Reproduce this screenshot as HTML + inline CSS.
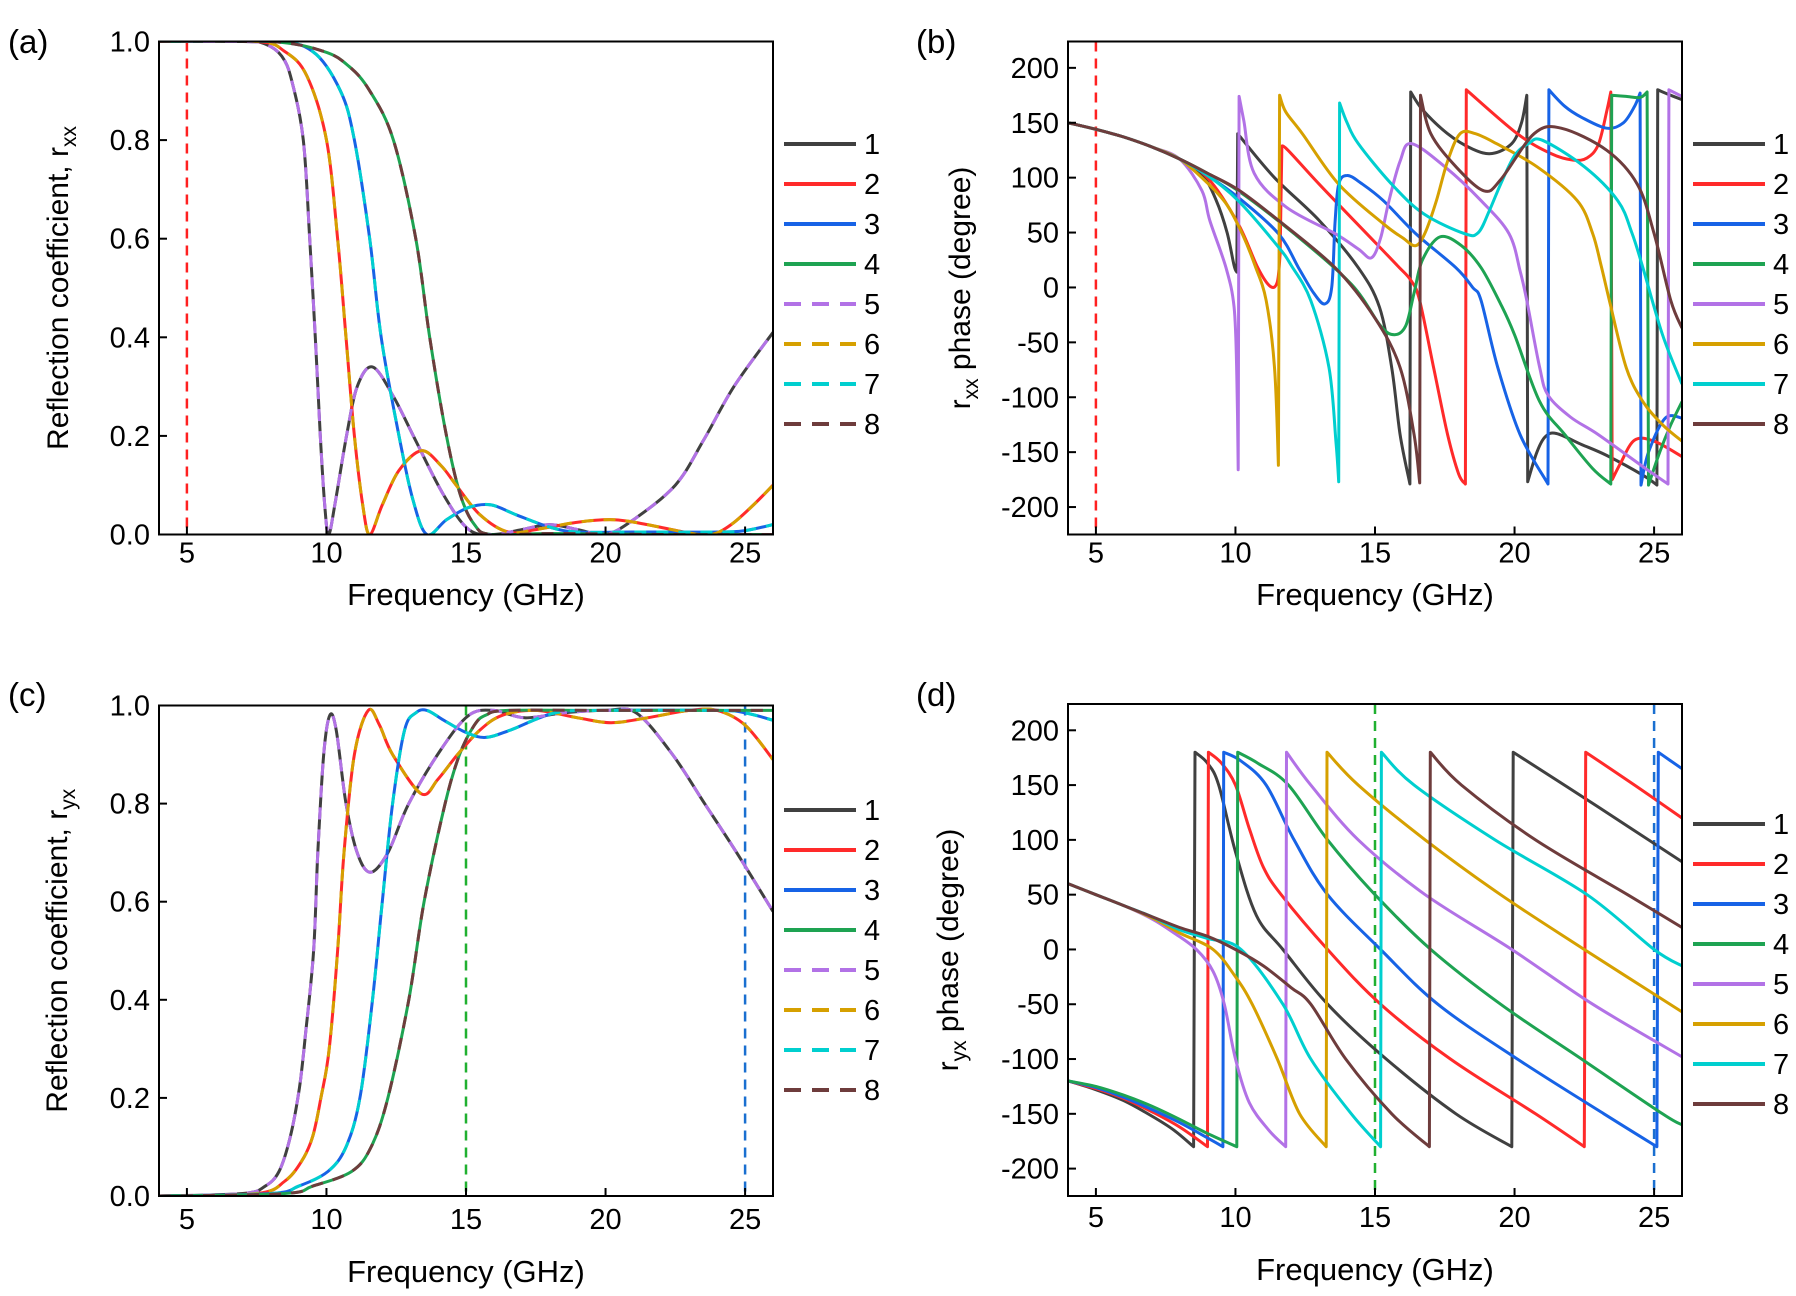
<!DOCTYPE html>
<html><head><meta charset="utf-8"><style>
html,body{margin:0;padding:0;background:#fff;}
svg{display:block;font-family:"Liberation Sans",Arial,sans-serif;}
</style></head><body>
<svg id="s" width="1796" height="1296" viewBox="0 0 1796 1296" xmlns="http://www.w3.org/2000/svg"></svg>
<script>
const C=['#404040','#ff2a2a','#1763e6','#1ea352','#b272e6','#d6a000','#00cfcf','#6e3c3c'];
function cr(p){let d='M'+p[0][0].toFixed(1)+','+p[0][1].toFixed(1);
 for(let i=0;i<p.length-1;i++){const a=p[i-1]||p[i],b=p[i],c=p[i+1],e=p[i+2]||c;
  const c1=[b[0]+(c[0]-a[0])/6,b[1]+(c[1]-a[1])/6],c2=[c[0]-(e[0]-b[0])/6,c[1]-(e[1]-b[1])/6];
  d+='C'+c1[0].toFixed(1)+','+c1[1].toFixed(1)+' '+c2[0].toFixed(1)+','+c2[1].toFixed(1)+' '+c[0].toFixed(1)+','+c[1].toFixed(1);}
 return d;}
let out='';let cid=0;
function panel(P){
 const sx=x=>P.x0+(x-4)/22*(P.x1-P.x0), sy=y=>P.y1-(y-P.ymin)/(P.ymax-P.ymin)*(P.y1-P.y0);
 cid++;out+=`<clipPath id="c${cid}"><rect x="${P.x0}" y="${P.y0}" width="${P.x1-P.x0}" height="${P.y1-P.y0}"/></clipPath>`;
 const path=segs=>segs.map((s,i)=>{let d=cr(s.map(q=>[sx(q[0]),sy(q[1])]));return i?'L'+d.slice(1):d;}).join('');
 out+=`<g clip-path="url(#c${cid})" fill="none" stroke-linejoin="round">`;
 (P.vl||[]).forEach(v=>{out+=`<line x1="${sx(v[0])}" x2="${sx(v[0])}" y1="${P.y0}" y2="${P.y1}" stroke="${v[1]}" stroke-width="2.5" stroke-dasharray="10,7"/>`;});
 P.curves.forEach(c=>{out+=`<path d="${path(c.s)}" stroke="${c.col}" stroke-width="3"${c.dash?' stroke-dasharray="12,10"':''}/>`;});
 out+='</g>';
 out+=`<rect x="${P.x0}" y="${P.y0}" width="${P.x1-P.x0}" height="${P.y1-P.y0}" fill="none" stroke="#000" stroke-width="2"/>`;
 [5,10,15,20,25].forEach(t=>{const x=sx(t);out+=`<line x1="${x}" x2="${x}" y1="${P.y1}" y2="${P.y1-8}" stroke="#000" stroke-width="2"/><text x="${x}" y="${P.y1+P.tl}" font-size="29" text-anchor="middle">${t}</text>`;});
 P.yt.forEach(t=>{const y=sy(t[0]);out+=`<line x1="${P.x0}" x2="${P.x0+8}" y1="${y}" y2="${y}" stroke="#000" stroke-width="2"/><text x="${P.x0-9}" y="${y+10}" font-size="29" text-anchor="end">${t[1]}</text>`;});
 out+=`<text x="${(P.x0+P.x1)/2}" y="${P.xtY}" font-size="31" text-anchor="middle">Frequency (GHz)</text>`;
 const cy=(P.y0+P.y1)/2;
 out+=`<text transform="translate(${P.ytX},${cy}) rotate(-90)" font-size="30" text-anchor="middle">${P.ytitle}</text>`;
 out+=`<text x="${P.lx}" y="${P.ly}" font-size="33">${P.letter}</text>`;
 for(let i=0;i<8;i++){const y=P.legY+40*i;const dash=P.legDash&&i>=4;
  out+=`<line x1="${P.x1+11}" x2="${P.x1+83}" y1="${y}" y2="${y}" stroke="${C[i]}" stroke-width="4"${dash?' stroke-dasharray="17,11"':''}/><text x="${P.x1+91}" y="${y+10}" font-size="29">${i+1}</text>`;}
}
function pairs(G){const cs=[];G.forEach((g,i)=>{cs.push({col:C[i],s:[g]});});G.forEach((g,i)=>{cs.push({col:C[i+4],s:[g],dash:1});});return cs;}
const A1=[[4,1],[7,1],[7.8,0.995],[8.4,0.97],[8.76,0.92],[9.17,0.8],[9.4,0.6],[9.6,0.4],[9.78,0.2],[9.95,0.05],[10.08,0],[10.3,0.06],[10.72,0.2],[11.1,0.3],[11.65,0.34],[12.4,0.28],[13.2,0.19],[14.2,0.08],[15.1,0.01],[16,0],[17,0.01],[18,0.02],[19,0.01],[20,0.0],[21,0.03],[22.5,0.1],[23.5,0.19],[24.6,0.3],[26,0.41]];
const A2=[[4,1],[7.5,1],[8.5,0.98],[9.3,0.93],[10,0.8],[10.4,0.6],[10.7,0.4],[11.0,0.2],[11.3,0.06],[11.55,0],[12.0,0.06],[12.6,0.13],[13.4,0.17],[14.1,0.14],[14.65,0.1],[15.5,0.04],[16.5,0.005],[17.5,0.01],[19,0.025],[20.3,0.03],[21.5,0.02],[23,0.003],[23.8,0],[24.5,0.02],[25.3,0.06],[26,0.1]];
const A3=[[4,1],[8,1],[9.5,0.98],[10.5,0.9],[11.0,0.8],[11.55,0.6],[11.96,0.4],[12.6,0.2],[13.1,0.07],[13.6,0],[14.3,0.03],[15.1,0.055],[15.9,0.06],[16.8,0.04],[18,0.015],[19,0.005],[21,0.005],[24,0.005],[25,0.008],[26,0.02]];
const A4=[[4,1],[8,1],[9.9,0.98],[10.8,0.95],[11.55,0.9],[12.4,0.8],[13.2,0.6],[13.7,0.4],[14.3,0.2],[14.8,0.08],[15.3,0.02],[15.9,0],[18,0.002],[22,0],[26,0]];
const magT=[[0,'0.0'],[0.2,'0.2'],[0.4,'0.4'],[0.6,'0.6'],[0.8,'0.8'],[1,'1.0']];
panel({x0:159,x1:773,y0:41.5,y1:534.5,ymin:0,ymax:1,yt:magT,tl:28,xtY:605,ytX:68,
 ytitle:'Reflection coefficient, r<tspan font-size="21" dy="8">xx</tspan>',letter:'(a)',lx:8,ly:53,legY:144,legDash:1,
 vl:[[5,'#ff2020']],curves:pairs([A1,A2,A3,A4])});
const C1=[[4,0],[7,0.005],[7.8,0.02],[8.3,0.05],[8.7,0.12],[9.03,0.22],[9.25,0.33],[9.54,0.5],[9.69,0.7],[9.9,0.9],[10.12,0.98],[10.35,0.95],[10.7,0.8],[11.1,0.7],[11.57,0.66],[12.2,0.7],[12.95,0.8],[14.1,0.91],[15.1,0.98],[16,0.99],[17.1,0.975],[18.5,0.985],[20,0.99],[21.1,0.985],[22.4,0.9],[23.55,0.8],[24.7,0.7],[26,0.58]];
const C2=[[4,0],[7.5,0.005],[8.5,0.03],[9.1,0.07],[9.5,0.12],[9.8,0.2],[10.1,0.3],[10.4,0.5],[10.63,0.7],[11.0,0.9],[11.5,0.99],[11.9,0.96],[12.37,0.9],[13.4,0.82],[14.0,0.85],[14.7,0.9],[15.5,0.95],[16.3,0.98],[17.5,0.99],[19,0.975],[20.2,0.965],[21.5,0.975],[23,0.99],[24,0.99],[25,0.96],[26,0.89]];
const C3=[[4,0],[8,0.005],[9,0.02],[10.05,0.05],[10.7,0.1],[11.2,0.2],[11.65,0.4],[12.0,0.6],[12.37,0.8],[12.8,0.95],[13.2,0.985],[13.6,0.99],[14.2,0.97],[15.0,0.945],[15.7,0.935],[16.6,0.95],[18.2,0.985],[20,0.99],[24,0.99],[25,0.985],[26,0.97]];
const C4=[[4,0],[8.5,0.005],[9.5,0.02],[10.9,0.05],[11.6,0.1],[12.2,0.2],[12.95,0.4],[13.5,0.6],[14.25,0.8],[14.77,0.9],[15.3,0.96],[15.7,0.98],[16.5,0.99],[20,0.99],[26,0.99]];
panel({x0:159,x1:773,y0:705.5,y1:1196,ymin:0,ymax:1,yt:magT,tl:33,xtY:1282,ytX:67,
 ytitle:'Reflection coefficient, r<tspan font-size="21" dy="8">yx</tspan>',letter:'(c)',lx:8,ly:706,legY:810,legDash:1,
 vl:[[15,'#20b030'],[25,'#1a6fd0']],curves:pairs([C1,C2,C3,C4])});
const B=[[4,150],[5,144],[6,137],[7,128],[8,117]];
const b=[
[[...B,[8.8,103],[9.3,80],[9.7,50],[9.95,20],[10.05,14]],[[10.08,140],[11.4,100],[13,61],[14.4,18],[15.16,-18],[15.6,-73],[15.9,-134],[16.25,-179]],[[16.28,178],[16.7,162],[17.6,140],[18.5,126],[19.2,122],[19.9,131],[20.25,150],[20.44,175]],[[20.47,-177],[20.8,-150],[21.1,-136],[21.5,-133],[22.4,-143],[23.3,-153],[24.6,-171],[25.1,-180]],[[25.13,180],[25.5,176],[26,171]]],
[[...B,[9,100],[10.1,58],[10.8,18],[11.25,1],[11.5,5],[11.6,30]],[[11.66,125],[11.8,127],[13,94],[14.7,49],[15.8,20],[16.3,6],[16.6,-12],[17.1,-73],[17.6,-134],[18.0,-170],[18.24,-179]],[[18.27,180],[20.1,140],[21.3,122],[22.1,116],[22.6,118],[23.0,130],[23.3,160],[23.45,178]],[[23.5,-175],[23.8,-160],[24.3,-139],[25,-140],[26,-154]]],
[[...B,[9,102],[10.1,82],[11.54,49],[12.26,18],[12.8,-5],[13.2,-15],[13.45,0],[13.57,60],[13.7,94],[14,102],[14.5,95],[15.3,79],[16.46,49],[17.9,18],[18.5,0],[18.8,-12],[19.4,-73],[20.2,-134],[21.2,-179]],[[21.23,180],[21.8,165],[22.4,155],[23.3,145],[23.9,150],[24.3,165],[24.5,177]],[[24.53,-180],[24.8,-150],[25.4,-119],[26,-119]]],
[[...B,[9,104],[10.1,88],[12.1,49],[14.15,3],[15.2,-35],[15.7,-43],[16.1,-35],[16.4,-5],[16.7,25],[17.33,46],[18.1,38],[18.8,18],[19.5,-15],[20,-43],[20.9,-104],[21.8,-134],[22.8,-165],[23.45,-179]],[[23.48,175],[24,174],[24.5,173],[24.75,178]],[[24.8,-180],[25.2,-150],[25.6,-125],[26,-104]]],
[[...B,[8.8,88],[9.08,61],[9.66,18],[9.95,-18],[10.05,-80],[10.1,-166]],[[10.13,174],[10.3,152],[10.67,104],[11.83,73],[13.57,49],[14.4,35],[14.87,27],[15.2,45],[15.5,79],[15.9,115],[16.3,131],[17.5,110],[18.8,79],[19.8,49],[20.2,15],[20.44,-12],[20.9,-73],[21.2,-98],[22,-118],[23,-134],[24.7,-165],[25.5,-179]],[[25.53,180],[26,174]]],
[[...B,[9,95],[9.7,75],[10.24,49],[10.7,20],[11.1,-12],[11.4,-73],[11.54,-162]],[[11.58,175],[11.8,160],[12.4,140],[13.7,94],[15.3,58],[16.0,45],[16.46,38],[16.8,50],[17.2,79],[17.6,115],[18.05,140],[18.6,140],[19.35,131],[20.8,110],[22.25,79],[22.8,49],[23.1,20],[23.4,-12],[24,-73],[24.6,-104],[25.3,-125],[26,-140]]],
[[...B,[9,102],[10.1,79],[11.5,38],[12.0,20],[12.7,-12],[13.35,-73],[13.6,-140],[13.7,-177]],[[13.73,168],[14.0,150],[14.4,131],[15.6,94],[16.75,67],[18.2,49],[18.7,50],[19.1,70],[19.5,94],[20.0,120],[20.5,131],[21,134],[22.5,110],[23.7,79],[24.2,50],[24.6,18],[25.3,-43],[26,-88]]],
[[...B,[9,104],[10.1,89],[11.4,64],[13.57,18],[15,-28],[15.9,-73],[16.4,-134],[16.6,-178]],[[16.63,175],[17.0,140],[17.9,110],[18.9,88],[19.5,98],[20.7,140],[21.67,145],[23.3,125],[24.4,94],[25,49],[25.6,-12],[26,-37]]]
];
const phT=[200,150,100,50,0,-50,-100,-150,-200].map(v=>[v,''+v]);
panel({x0:1068,x1:1682,y0:41.5,y1:534.5,ymin:-225,ymax:224,yt:phT,tl:28,xtY:605,ytX:970,
 ytitle:'r<tspan font-size="21" dy="8">xx</tspan><tspan dy="-8"> phase (degree)</tspan>',letter:'(b)',lx:916,ly:53,legY:144,
 vl:[[5,'#ff2020']],curves:b.map((s,i)=>({col:C[i],s:s}))});
const d=[
[[[4,-120],[5,-128],[6,-138],[7,-152],[7.8,-165],[8.5,-180]],[[8.55,180],[9,170],[9.4,150],[10,89],[10.75,31],[11.7,0],[13.3,-50],[15.4,-100],[17.9,-150],[19.9,-180]],[[19.95,180],[23,130],[26,80]]],
[[[4,-120],[5,-127],[6,-136],[7,-148],[8,-162],[9,-180]],[[9.03,180],[9.5,170],[10,150],[10.5,110],[11.0,75],[11.64,50],[13.3,0],[15.2,-50],[17.7,-100],[20.75,-150],[22.5,-180]],[[22.55,180],[24.3,150],[26,120]]],
[[[4,-120],[5,-126],[6,-135],[7,-146],[8,-158],[9,-172],[9.55,-180]],[[9.58,180],[10.2,172],[11.1,150],[12.1,100],[13.3,50],[15.2,0],[17.25,-50],[20.1,-100],[23.2,-150],[25.1,-180]],[[25.15,180],[26,165]]],
[[[4,-120],[5,-125],[6,-133],[7,-143],[8,-155],[9,-168],[10.05,-180]],[[10.08,180],[10.8,170],[11.9,150],[13.3,100],[15,50],[17,0],[19.5,-50],[22.4,-100],[25.3,-150],[26,-160]]],
[[[4,60],[5,50],[6,40],[7,28],[7.8,15],[8.6,0],[9.2,-20],[9.6,-50],[10.0,-100],[10.5,-140],[11.2,-165],[11.8,-180]],[[11.83,180],[12.7,150],[14.4,100],[16.8,50],[19.9,0],[22.8,-50],[26,-98]]],
[[[4,60],[5,50],[6,40],[7,29],[8,15],[9.2,0],[10,-25],[10.6,-50],[11.5,-100],[12.3,-150],[13.25,-180]],[[13.28,180],[14.4,150],[16.8,100],[19.5,50],[22.5,0],[26,-57]]],
[[[4,60],[5,50],[6,40],[7,30],[8,18],[9,10],[10.2,0],[11.7,-50],[12.7,-100],[14.15,-150],[15.2,-180]],[[15.23,180],[16.4,150],[19.3,100],[22.6,50],[25,0],[26,-15]]],
[[[4,60],[5,50],[6,40],[7,30],[8,20],[9,12],[10,0],[11,-15],[12,-35],[12.7,-50],[13.95,-100],[15.6,-150],[16.95,-180]],[[16.98,180],[18.1,150],[20.75,100],[24.05,50],[26,20]]]
];
panel({x0:1068,x1:1682,y0:704,y1:1196,ymin:-225,ymax:224,yt:phT,tl:31,xtY:1280,ytX:958,
 ytitle:'r<tspan font-size="21" dy="8">yx</tspan><tspan dy="-8"> phase (degree)</tspan>',letter:'(d)',lx:916,ly:706,legY:824,
 vl:[[15,'#20b030'],[25,'#1a6fd0']],curves:d.map((s,i)=>({col:C[i],s:s}))});
document.getElementById('s').innerHTML=out;
</script>
</body></html>
